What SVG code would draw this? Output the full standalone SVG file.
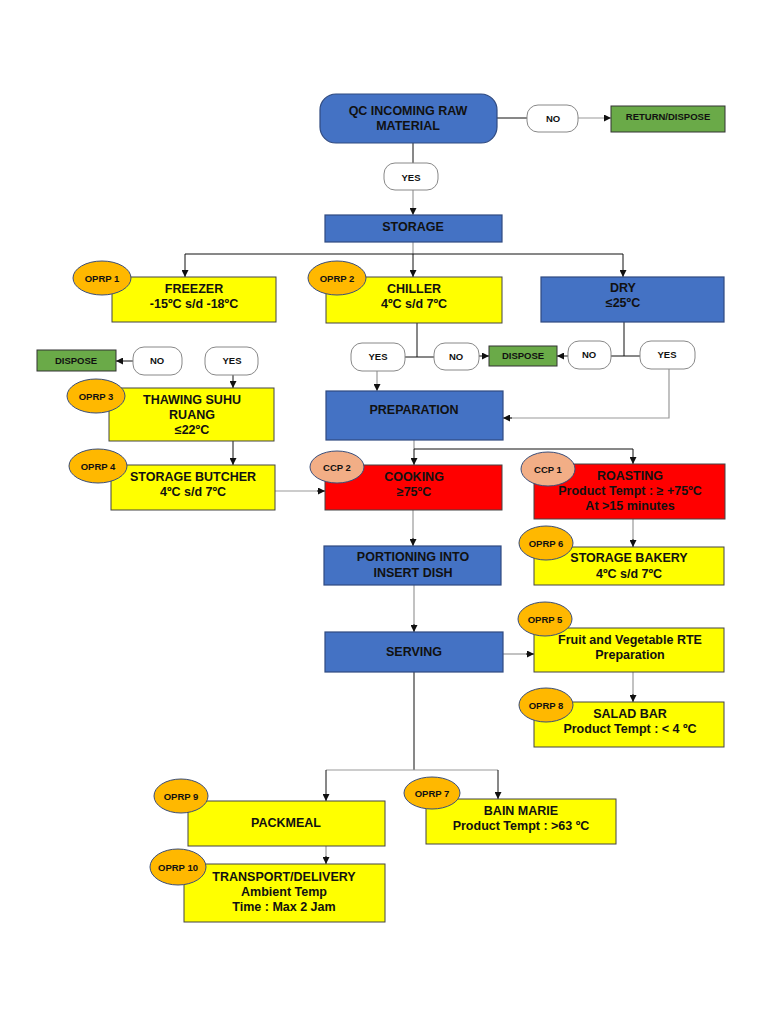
<svg xmlns="http://www.w3.org/2000/svg" width="768" height="1024" viewBox="0 0 768 1024">
<defs>
<marker id="ah" viewBox="0 0 10 10" refX="10" refY="5" markerWidth="7" markerHeight="7" markerUnits="userSpaceOnUse" orient="auto"><path d="M0,0 L10,5 L0,10 z" fill="#111"/></marker>
<style>
text{font-family:"Liberation Sans",Arial,sans-serif;font-weight:bold;fill:#111;text-anchor:middle;dominant-baseline:central}
.t{font-size:12.5px}
.s{font-size:9.5px}
.blue{fill:#4472C4;stroke:#2F4A80;stroke-width:1.2}
.yel{fill:#FFFF00;stroke:#444;stroke-width:1}
.red{fill:#FF0000;stroke:#444;stroke-width:1}
.grn{fill:#6AAA48;stroke:#333;stroke-width:1}
.pill{fill:#fff;stroke:#888;stroke-width:1}
.op{fill:#FFB800;stroke:#3A4E7A;stroke-width:1}
.ccp{fill:#F2AE86;stroke:#3A4E7A;stroke-width:1}
.c{fill:none;stroke:#111;stroke-width:1}
.g{fill:none;stroke:#999;stroke-width:1.2}
.a{marker-end:url(#ah)}
</style>
</defs>
<rect width="768" height="1024" fill="#fff"/>
<g id="connectors">
<path class="c" d="M497,118 H527"/>
<path class="g a" d="M578,118 H611"/>
<path class="c" d="M413,143 V163"/>
<path class="g a" d="M413,190 V215"/>
<path class="g" d="M413,242 V254"/>
<path class="c" d="M185,254 H623"/>
<path class="c a" d="M185,254 V277"/>
<path class="c a" d="M413,254 V277"/>
<path class="c a" d="M623,254 V277"/>
<path class="c" d="M417,323 V357 M405,357 H434"/>
<path class="c a" d="M479,356 H489"/>
<path class="c" d="M624,322 V356 M611,356 H640"/>
<path class="c a" d="M568,356 H557"/>
<path class="g a" d="M377,371 V391"/>
<path class="g" d="M669,369 V418 H510"/>
<path class="c a" d="M512,418 H503"/>
<path class="c a" d="M133,361 H116"/>
<path class="c a" d="M233,375 V388"/>
<path class="c a" d="M233,441 V465"/>
<path class="g" d="M275,491 H318"/>
<path class="c a" d="M317,491 H325"/>
<path class="g" d="M414,440 V449"/>
<path class="c" d="M414,449 H633"/>
<path class="c a" d="M414,449 V465"/>
<path class="c a" d="M633,449 V464"/>
<path class="g" d="M413,510 V539"/>
<path class="c a" d="M413,538 V546"/>
<path class="g" d="M633,519 V540"/>
<path class="c a" d="M633,539 V547"/>
<path class="g" d="M414,585 V625"/>
<path class="c a" d="M414,624 V632"/>
<path class="g" d="M503,654 H527"/>
<path class="c a" d="M526,654 H534"/>
<path class="g" d="M633,672 V695"/>
<path class="c a" d="M633,694 V702"/>
<path class="c" d="M414,672 V770"/>
<path class="g" d="M326,770 H498"/>
<path class="c a" d="M326,770 V801"/>
<path class="c a" d="M498,770 V799"/>
<path class="g" d="M326,846 V857"/>
<path class="c a" d="M326,856 V864"/>
</g>
<g id="qc"><rect class="blue" x="320" y="94" width="177" height="49" rx="16"/><text class="t" x="408" y="111">QC INCOMING RAW</text><text class="t" x="408" y="126">MATERIAL</text></g>
<g id="no1"><rect class="pill" x="527" y="105" width="51" height="27" rx="11"/><text class="s" x="553" y="118">NO</text></g>
<g id="return"><rect class="grn" x="611" y="106" width="114" height="26"/><text class="s" x="668" y="116">RETURN/DISPOSE</text></g>
<g id="yes1"><rect class="pill" x="384" y="163" width="54" height="27" rx="11"/><text class="s" x="411" y="177">YES</text></g>
<g id="storage"><rect class="blue" x="325" y="215" width="177" height="27"/><text class="t" x="413" y="227">STORAGE</text></g>
<g id="freezer"><rect class="yel" x="112" y="277" width="164" height="45"/><text class="t" x="194" y="289">FREEZER</text><text class="t" x="194" y="304">-15ºC s/d -18ºC</text><ellipse class="op" cx="102" cy="278" rx="29" ry="17"/><text class="s" x="102" y="278">OPRP 1</text></g>
<g id="chiller"><rect class="yel" x="326" y="277" width="176" height="46"/><text class="t" x="414" y="289">CHILLER</text><text class="t" x="414" y="304">4ºC s/d 7ºC</text><ellipse class="op" cx="337" cy="278" rx="29" ry="17"/><text class="s" x="337" y="278">OPRP 2</text></g>
<g id="dry"><rect class="blue" x="541" y="277" width="183" height="45"/><text class="t" x="623" y="288">DRY</text><text class="t" x="623" y="303">≤25ºC</text></g>
<g id="yes2"><rect class="pill" x="351" y="343" width="54" height="28" rx="11"/><text class="s" x="378" y="356">YES</text></g>
<g id="no2"><rect class="pill" x="434" y="343" width="45" height="27" rx="11"/><text class="s" x="456" y="356">NO</text></g>
<g id="dispose2"><rect class="grn" x="489" y="346" width="68" height="20"/><text class="s" x="523" y="355">DISPOSE</text></g>
<g id="no3"><rect class="pill" x="568" y="341" width="43" height="28" rx="11"/><text class="s" x="589" y="354">NO</text></g>
<g id="yes3"><rect class="pill" x="640" y="341" width="55" height="28" rx="11"/><text class="s" x="667" y="354">YES</text></g>
<g id="dispose1"><rect class="grn" x="37" y="350" width="79" height="21"/><text class="s" x="76" y="360">DISPOSE</text></g>
<g id="no4"><rect class="pill" x="133" y="347" width="49" height="28" rx="11"/><text class="s" x="157" y="360">NO</text></g>
<g id="yes4"><rect class="pill" x="205" y="347" width="53" height="28" rx="11"/><text class="s" x="232" y="360">YES</text></g>
<g id="thawing"><rect class="yel" x="109" y="388" width="165" height="53"/><text class="t" x="192" y="400">THAWING SUHU</text><text class="t" x="192" y="415">RUANG</text><text class="t" x="192" y="430">≤22ºC</text><ellipse class="op" cx="96" cy="396" rx="29" ry="17"/><text class="s" x="96" y="396">OPRP 3</text></g>
<g id="butcher"><rect class="yel" x="111" y="465" width="164" height="45"/><text class="t" x="193" y="477">STORAGE BUTCHER</text><text class="t" x="193" y="492">4ºC s/d 7ºC</text><ellipse class="op" cx="98" cy="466" rx="29" ry="17"/><text class="s" x="98" y="466">OPRP 4</text></g>
<g id="preparation"><rect class="blue" x="326" y="391" width="177" height="49"/><text class="t" x="414" y="410">PREPARATION</text></g>
<g id="cooking"><rect class="red" x="325" y="465" width="177" height="45"/><text class="t" x="414" y="477">COOKING</text><text class="t" x="414" y="492">≥75ºC</text><ellipse class="ccp" cx="337" cy="467" rx="27" ry="16"/><text class="s" x="337" y="467">CCP 2</text></g>
<g id="roasting"><rect class="red" x="534" y="464" width="191" height="55"/><text class="t" x="630" y="476">ROASTING</text><text class="t" x="630" y="491">Product Tempt : ≥ +75ºC</text><text class="t" x="630" y="506">At &gt;15 minutes</text><ellipse class="ccp" cx="548" cy="469" rx="27" ry="17"/><text class="s" x="548" y="469">CCP 1</text></g>
<g id="portioning"><rect class="blue" x="324" y="546" width="177" height="39"/><text class="t" x="413" y="557">PORTIONING INTO</text><text class="t" x="413" y="573">INSERT DISH</text></g>
<g id="bakery"><rect class="yel" x="534" y="547" width="190" height="38"/><text class="t" x="629" y="558">STORAGE BAKERY</text><text class="t" x="629" y="574">4ºC s/d 7ºC</text><ellipse class="op" cx="546" cy="543" rx="27" ry="17"/><text class="s" x="546" y="543">OPRP 6</text></g>
<g id="serving"><rect class="blue" x="325" y="632" width="178" height="40"/><text class="t" x="414" y="652">SERVING</text></g>
<g id="fruit"><rect class="yel" x="534" y="628" width="190" height="44"/><text class="t" x="630" y="640">Fruit and Vegetable RTE</text><text class="t" x="630" y="655">Preparation</text><ellipse class="op" cx="545" cy="619" rx="27" ry="17"/><text class="s" x="545" y="619">OPRP 5</text></g>
<g id="salad"><rect class="yel" x="534" y="702" width="190" height="45"/><text class="t" x="630" y="714">SALAD BAR</text><text class="t" x="630" y="729">Product Tempt : &lt; 4 ºC</text><ellipse class="op" cx="546" cy="705" rx="27" ry="17"/><text class="s" x="546" y="705">OPRP 8</text></g>
<g id="packmeal"><rect class="yel" x="188" y="801" width="197" height="45"/><text class="t" x="286" y="823">PACKMEAL</text><ellipse class="op" cx="181" cy="796" rx="27" ry="17"/><text class="s" x="181" y="796">OPRP 9</text></g>
<g id="bainmarie"><rect class="yel" x="426" y="799" width="190" height="45"/><text class="t" x="521" y="811">BAIN MARIE</text><text class="t" x="521" y="826">Product Tempt : &gt;63 ºC</text><ellipse class="op" cx="432" cy="793" rx="28" ry="16"/><text class="s" x="432" y="793">OPRP 7</text></g>
<g id="transport"><rect class="yel" x="184" y="864" width="201" height="58"/><text class="t" x="284" y="877">TRANSPORT/DELIVERY</text><text class="t" x="284" y="892">Ambient Temp</text><text class="t" x="284" y="907">Time : Max 2 Jam</text><ellipse class="op" cx="178" cy="867" rx="28" ry="18"/><text class="s" x="178" y="867">OPRP 10</text></g>
</svg>
